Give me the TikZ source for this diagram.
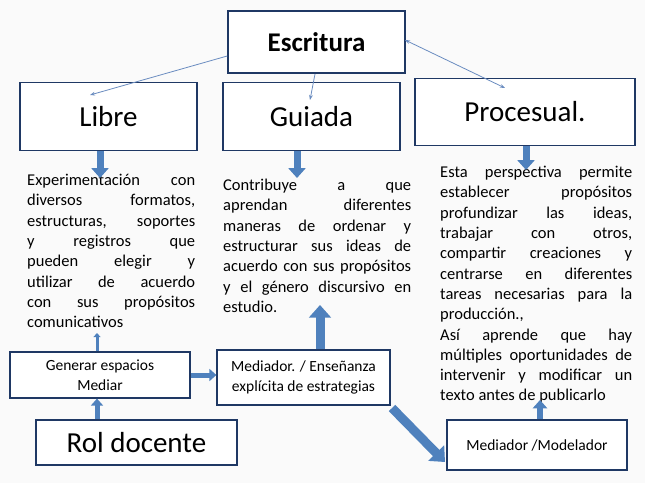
\documentclass[tikz,border=0pt]{standalone}
\usepackage{fontspec}
\setmainfont{Carlito}
\usetikzlibrary{arrows.meta}
\definecolor{bl}{HTML}{1F3864}
\definecolor{ar}{HTML}{4F81BD}
\definecolor{ln}{HTML}{6A8CC0}
\newcommand\nohy{\lefthyphenmin=62 \righthyphenmin=62 \hyphenpenalty=10000 \exhyphenpenalty=10000 \tolerance=9999 \emergencystretch=3em\relax}
\AtBeginDocument{\nohy}
\tikzset{
 bx/.style={draw=bl,line width=1.6pt,fill=white,inner sep=0pt},
 txt/.style={anchor=north west,align=justify,inner sep=0pt,font=\fontsize{16.5}{20.3}\selectfont},
 fat/.style={draw=ar,line width=#1,-{Triangle[width=2.4*#1,length=1.4*#1]}},
 thin/.style={draw=ln,line width=0.8pt,-{Stealth[open,length=5pt]}}
}
\begin{document}
\begin{tikzpicture}[x=1pt,y=-1pt]
\useasboundingbox[fill=white!96!gray] (0,0) rectangle (645,483);
\node[bx,minimum width=177,minimum height=62,font=\fontsize{27}{30}\selectfont\bfseries] (esc) at (316.5,42) {Escritura};
\node[bx,minimum width=177,minimum height=68,font=\fontsize{29}{32}\selectfont] (lib) at (108.5,116.5) {Libre};
\node[bx,minimum width=177,minimum height=68,font=\fontsize{29}{32}\selectfont] (gui) at (311.5,116.5) {Guiada};
\node[bx,minimum width=220,minimum height=67,font=\fontsize{29}{32}\selectfont] (pro) at (525,112) {Procesual.};
\coordinate (la) at (90,95);
\coordinate (ga) at (310,100);
\coordinate (pa) at (505,88);
\draw[thin] (esc.west|-0,56) -- (la);
\draw[thin] (315,74) -- (ga);
\draw[thin,{Stealth[open,length=5pt]}-{Stealth[open,length=5pt]}] (405,40) -- (pa);
\node[txt,text width=168] (lt) at (27,174) {Experimentación con diversos formatos, estructuras, soportes y registros que pueden elegir y utilizar de acuerdo con sus propósitos comunicativos};
\node[txt,text width=188] (gt) at (223,179) {Contribuye a que\linebreak aprendan diferentes\linebreak maneras de ordenar y\linebreak estructurar sus ideas de\linebreak acuerdo con sus propósitos\linebreak y el género discursivo en\linebreak estudio.};
\node[txt,text width=192] (pt) at (440,166) {Esta perspectiva permite\linebreak establecer propósitos\linebreak profundizar las ideas,\linebreak trabajar con otros,\linebreak compartir creaciones y\linebreak centrarse en diferentes\linebreak tareas necesarias para la\linebreak producción.,\\ Así aprende que hay\linebreak múltiples oportunidades de\linebreak intervenir y modificar un\linebreak texto antes de publicarlo};
\draw[fat=7pt] (lib.south-|100,0) -- (100,178);
\draw[fat=7pt] (gui.south-|297,0) -- (297,178);
\draw[fat=7pt] (pro.south-|526,0) -- (526,170);
\node[bx,line width=1.2pt,minimum width=180,minimum height=46,align=center,font=\fontsize{15.5}{20}\selectfont] (gen) at (100,375) {Generar espacios\\Mediar};
\node[bx,line width=1.2pt,minimum width=173,minimum height=55,align=center,font=\fontsize{15.5}{20}\selectfont] (med) at (303.5,377.5) {Mediador. / Enseñanza\\explícita de estrategias};
\node[bx,minimum width=201,minimum height=45,font=\fontsize{29}{32}\selectfont] (rol) at (136.5,442.5) {Rol docente};
\node[bx,line width=1.2pt,minimum width=180,minimum height=50,font=\fontsize{15.5}{20}\selectfont] (mod) at (537,445) {Mediador /Modelador};
\draw[fat=3pt] (gen.north-|97,0) -- (97,333);
\draw[fat=5pt] (rol.north-|97,0) -- (gen.south-|97,0);
\draw[fat=5pt] (gen.east|-0,375) -- (med.west|-0,375);
\draw[fat=9pt] (med.north-|320,0) -- (320,305);
\draw[fat=9pt] (392,408) -- (445,462);
\draw[fat=6pt] (mod.north-|540,0) -- (540,400);
\end{tikzpicture}
\end{document}
